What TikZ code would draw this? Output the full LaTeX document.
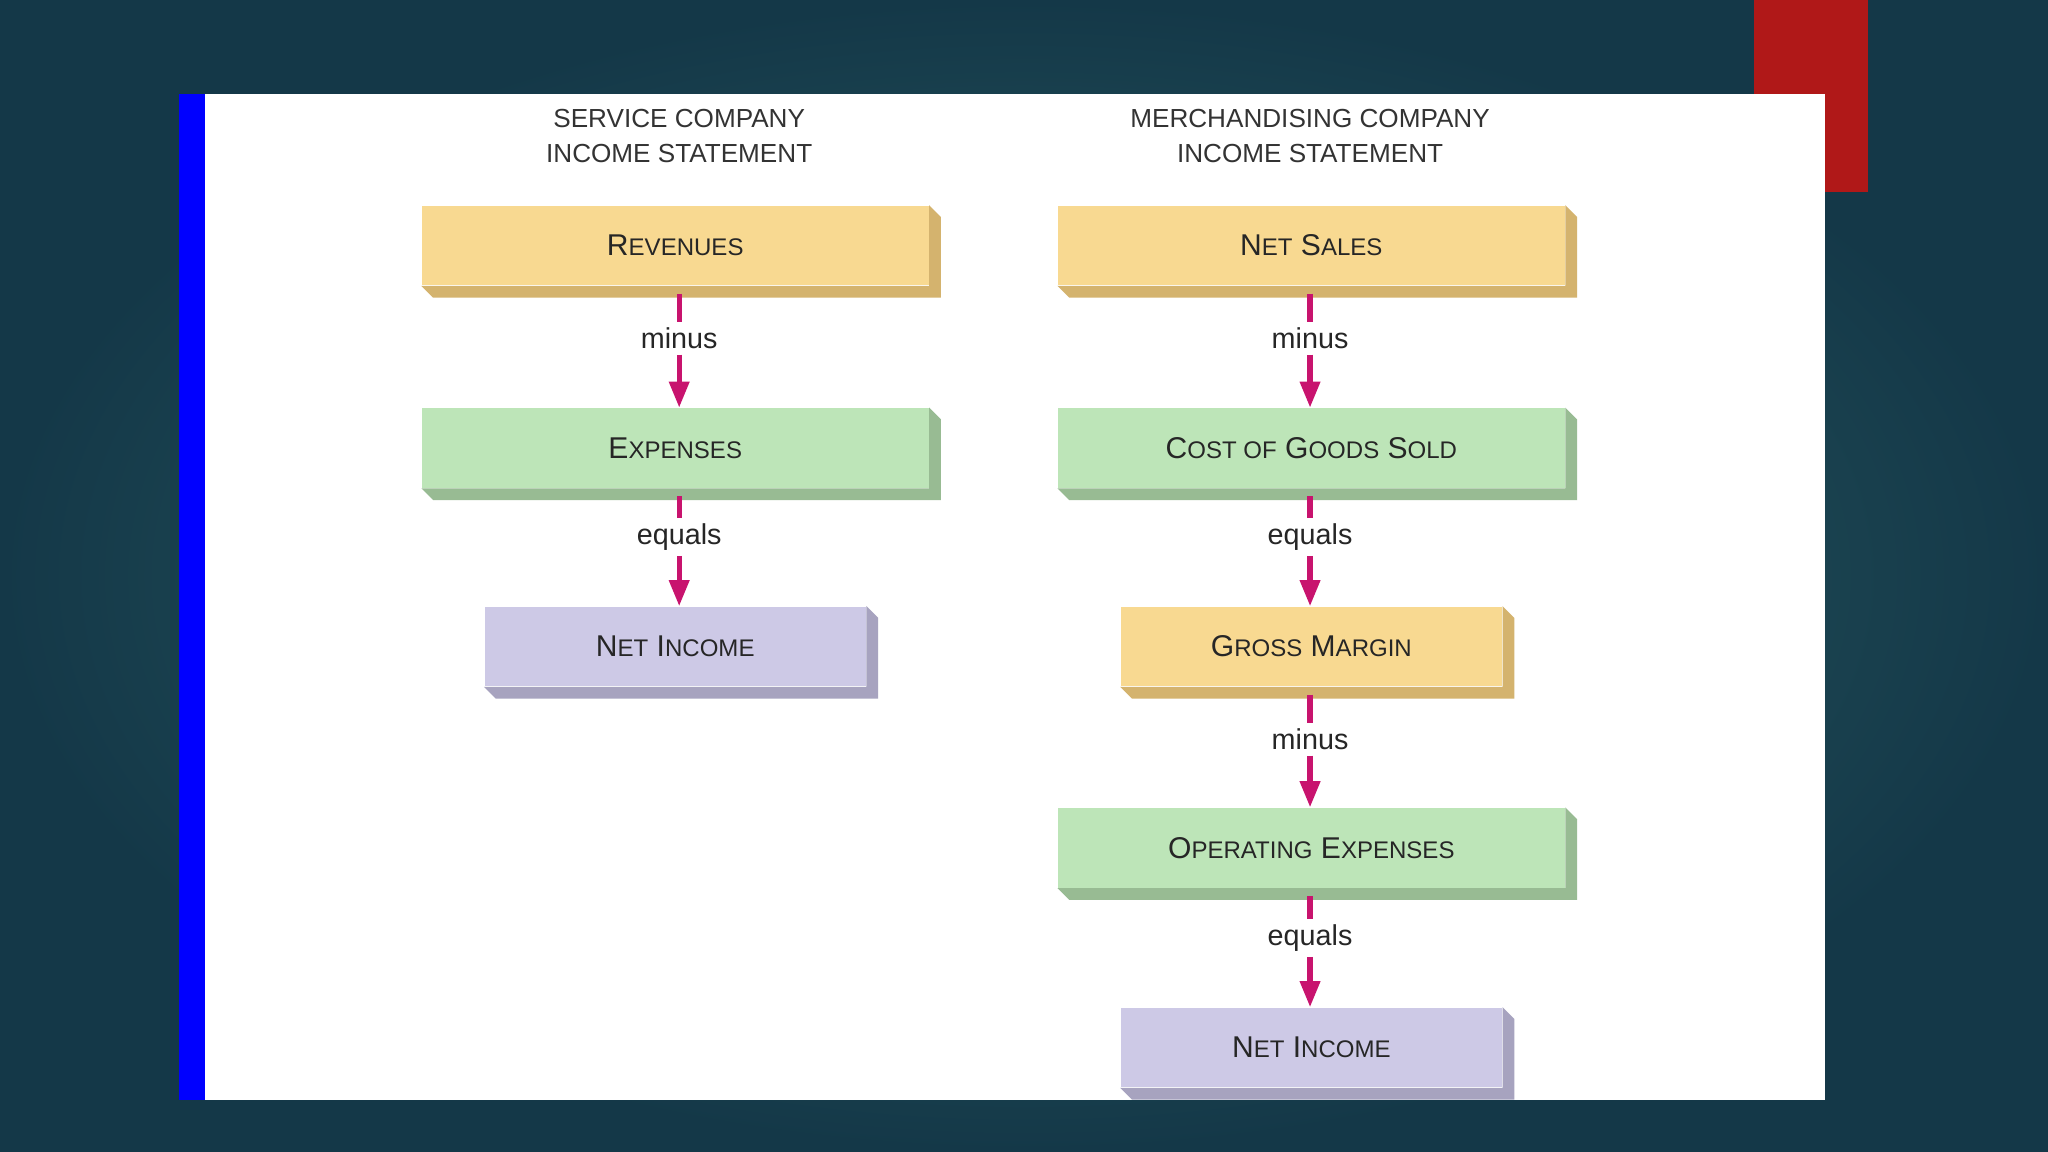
\documentclass[tikz,border=0pt]{standalone}
\usepackage{fontspec}
\setmainfont{Liberation Sans}
\usetikzlibrary{calc,arrows.meta}
\definecolor{bgin}{HTML}{2E6468}
\definecolor{bgout}{HTML}{143848}
\definecolor{yface}{HTML}{F8D991}
\definecolor{yside}{HTML}{D4B36E}
\definecolor{gface}{HTML}{BDE5B8}
\definecolor{gside}{HTML}{98BB93}
\definecolor{pface}{HTML}{CDC9E6}
\definecolor{pside}{HTML}{A7A3BF}
\definecolor{arrc}{HTML}{C8136E}
\definecolor{redbox}{HTML}{B01818}
\newcommand{\fsc}[2]{{\fontsize{11.5}{13}\selectfont #1}{\fontsize{9.2}{11}\selectfont #2}}
\newcommand{\boxside}[2]{\fill[#2] (#1.south west) -- ++(9,9) -- ($(#1.south east)+(9,9)$) -- ($(#1.north east)+(9,9)$) -- (#1.north east) -- (#1.south east) -- cycle;}
\tikzset{
  bx/.style={inner sep=0pt, minimum height=30.5pt, text=black!85, font=\fontsize{11.5}{13}\selectfont},
  wide/.style={bx, minimum width=194pt},
  narrow/.style={bx, minimum width=146pt},
  lab/.style={inner sep=2pt, font=\fontsize{11}{13}\selectfont, text=black!85},
  head/.style={align=center, font=\fontsize{10}{13.5}\selectfont, text=black!80},
  ln/.style={draw=arrc, line width=2pt, shorten <=3pt},
  ar/.style={draw=arrc, line width=2pt, -{Triangle[length=10pt,width=7.5pt]}}
}
\begin{document}
\begin{tikzpicture}[x=0.5pt,y=-0.5pt]
\useasboundingbox (0,0) rectangle (1568,882);
\shade[inner color=bgin, outer color=bgout] (0,0) rectangle (1568,882);
\fill[redbox] (1343,0) rectangle (1430,147);
\fill[white] (137,72) rectangle (1397,842);
\fill[blue] (137,72) rectangle (157,842);

\node[head] (h1) at (520,104) {SERVICE COMPANY\\INCOME STATEMENT};
\node[head] (h2) at (1003,104) {MERCHANDISING COMPANY\\INCOME STATEMENT};

% left column
\node[wide, fill=yface] (rev) at (517,188) {\fsc{R}{EVENUES}};
\node[wide, fill=gface] (exp) at (517,343) {\fsc{E}{XPENSES}};
\node[narrow, fill=pface] (ni1) at (517,495) {\fsc{N}{ET} \fsc{I}{NCOME}};
\boxside{rev}{yside}\boxside{exp}{gside}\boxside{ni1}{pside}
\node[lab] (l1) at (520,259) {minus};
\node[lab] (l2) at (520,411) {equals};

% right column
\node[wide, fill=yface] (ns) at (1004,188) {\fsc{N}{ET} \fsc{S}{ALES}};
\node[wide, fill=gface] (cogs) at (1004,343) {\fsc{C}{OST OF} \fsc{G}{OODS} \fsc{S}{OLD}};
\node[narrow, fill=yface] (gm) at (1004,495) {\fsc{G}{ROSS} \fsc{M}{ARGIN}};
\node[wide, fill=gface] (opex) at (1004,649) {\fsc{O}{PERATING} \fsc{E}{XPENSES}};
\node[narrow, fill=pface] (ni2) at (1004,802) {\fsc{N}{ET} \fsc{I}{NCOME}};
\boxside{ns}{yside}\boxside{cogs}{gside}\boxside{gm}{yside}\boxside{opex}{gside}\boxside{ni2}{pside}
\node[lab] (r1) at (1003,259) {minus};
\node[lab] (r2) at (1003,411) {equals};
\node[lab] (r3) at (1003,566) {minus};
\node[lab] (r4) at (1003,718) {equals};

\foreach \a/\l/\b in {rev/l1/exp, exp/l2/ni1, ns/r1/cogs, cogs/r2/gm, gm/r3/opex, opex/r4/ni2}{
  \draw[ln] (\a.south -| \l) -- (\l.north);
  \draw[ar] (\l.south) -- (\b.north -| \l);
}
\end{tikzpicture}
\end{document}
